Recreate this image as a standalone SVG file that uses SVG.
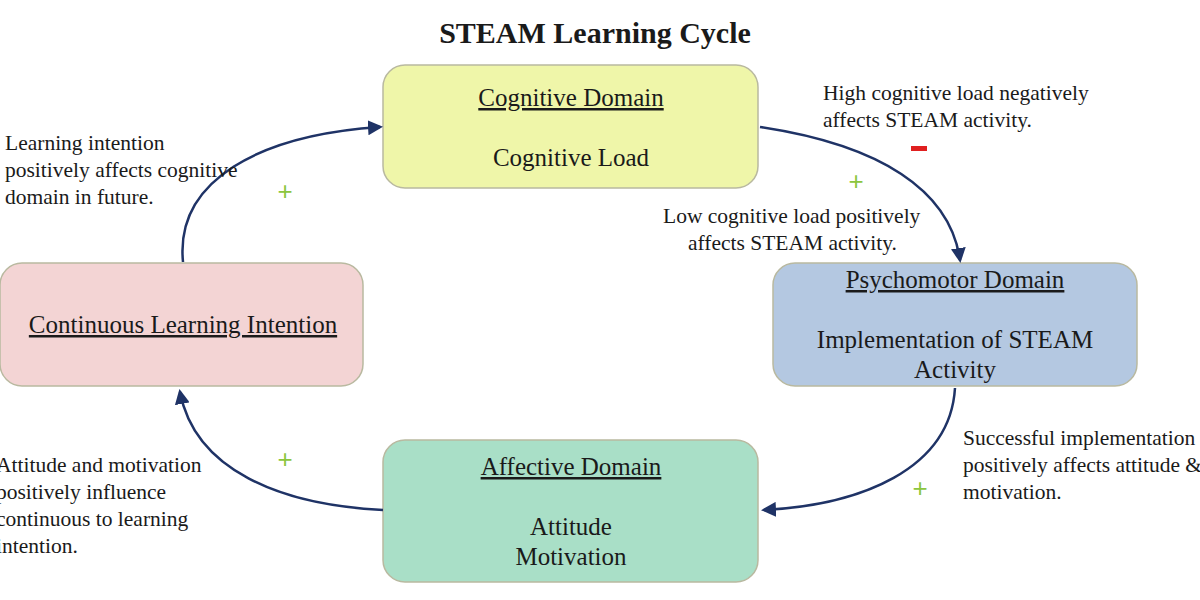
<svg xmlns="http://www.w3.org/2000/svg" width="1200" height="600" viewBox="0 0 1200 600">
<style>
text{font-family:"Liberation Serif","Times New Roman",serif;fill:#1a1a1a}
.t{font-size:25px;text-anchor:middle}
.u{text-decoration:underline}
.n{font-size:21.5px}
.p{font-size:26px;fill:#8cc63f;font-family:"Liberation Sans",sans-serif;text-anchor:middle}
.box{stroke:#b9b9a0;stroke-width:1.5}
.c{fill:none;stroke:#1f3366;stroke-width:2.5;marker-end:url(#a)}
</style>
<defs><marker id="a" viewBox="0 0 10 10" refX="8" refY="5" markerWidth="6" markerHeight="6" orient="auto"><path d="M0,0L10,5L0,10z" fill="#1f3366"/></marker></defs>
<rect width="1200" height="600" fill="#fff"/>
<text x="595" y="43" font-size="30" font-weight="bold" text-anchor="middle">STEAM Learning Cycle</text>
<g id="cognitive"><rect class="box" x="383" y="65" width="375" height="123" rx="22" fill="#eff6a9"/>
<text class="t u" x="571" y="106">Cognitive Domain</text><text class="t" x="571" y="166">Cognitive Load</text></g>
<g id="psychomotor"><rect class="box" x="773" y="263" width="364" height="123" rx="22" fill="#b4c8e1"/>
<text class="t u" x="955" y="288">Psychomotor Domain</text><text class="t" x="955" y="348">Implementation of STEAM</text><text class="t" x="955" y="378">Activity</text></g>
<g id="continuous"><rect class="box" x="0" y="263" width="363" height="123" rx="22" fill="#f3d4d4"/>
<text class="t u" x="183" y="333">Continuous Learning Intention</text></g>
<g id="affective"><rect class="box" x="383" y="440" width="375" height="142" rx="22" fill="#a9dfc7"/>
<text class="t u" x="571" y="475">Affective Domain</text><text class="t" x="571" y="535">Attitude</text><text class="t" x="571" y="565">Motivation</text></g>
<g id="connectors">
<path class="c" d="M183,262 C175,180 260,135 380,127"/>
<path class="c" d="M760,127 C880,145 950,190 960,260"/>
<path class="c" d="M955,388 C950,470 860,505 764,510"/>
<path class="c" d="M383,510 C280,505 195,470 180,392"/>
</g>
<g id="labels">
<text class="n" x="5" y="150">Learning intention</text><text class="n" x="5" y="177">positively affects cognitive</text><text class="n" x="5" y="204">domain in future.</text>
<text class="n" x="823" y="100">High cognitive load negatively</text><text class="n" x="823" y="127">affects STEAM activity.</text>
<text class="n" x="663" y="223">Low cognitive load positively</text><text class="n" x="688" y="250">affects STEAM activity.</text>
<text class="n" x="963" y="445">Successful implementation</text><text class="n" x="963" y="472">positively affects attitude &amp;</text><text class="n" x="963" y="499">motivation.</text>
<text class="n" x="-4" y="472">Attitude and motivation</text><text class="n" x="-4" y="499">positively influence</text><text class="n" x="-4" y="526">continuous to learning</text><text class="n" x="-4" y="553">intention.</text>
<text class="p" x="285" y="200">+</text><text class="p" x="856" y="190">+</text><text class="p" x="285" y="468">+</text><text class="p" x="920" y="497">+</text>
<rect x="911" y="146" width="16" height="5" fill="#e02020"/>
</g>
</svg>
